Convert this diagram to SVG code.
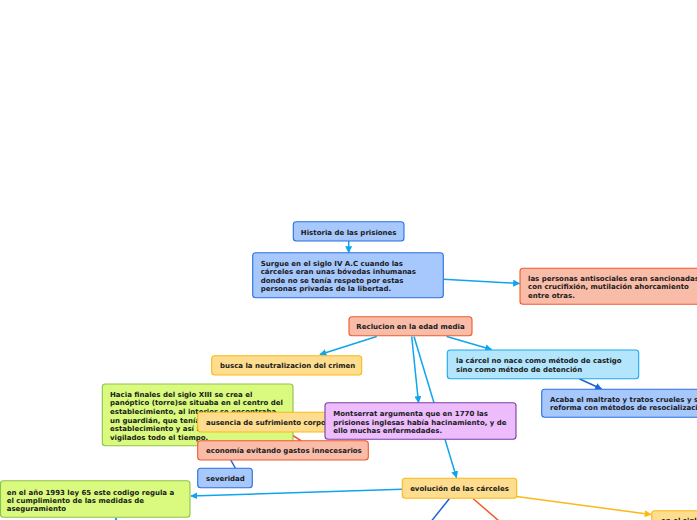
<svg xmlns="http://www.w3.org/2000/svg" width="697" height="520" viewBox="0 0 697 520">
<style>
  .t{font-family:"DejaVu Sans",Verdana,sans-serif;font-weight:bold;font-size:7px;fill:#1a1a1a}
  .c{text-anchor:middle}
  .n{stroke-width:1.1}
  .blue{fill:#a6c8fc;stroke:#2b6fe0}
  .sal{fill:#f8bca8;stroke:#f05a28}
  .yel{fill:#fedd8e;stroke:#fbb917}
  .cy{fill:#b3e5fc;stroke:#1aa9f2}
  .grn{fill:#d9fa7e;stroke:#8fc14a}
  .pur{fill:#ecbcfc;stroke:#7b3fa0}
  .l{fill:none;stroke-width:1.5}
  .lb{stroke:#0ea5ee}
  .db{stroke:#1f62d6}
  .or{stroke:#f05a28}
  .yl{stroke:#fbb917}
</style>
<defs>
  <marker id="alb" viewBox="0 0 10 10" refX="9" refY="5" markerWidth="7" markerHeight="7" markerUnits="userSpaceOnUse" orient="auto"><path d="M0,0L10,5L0,10z" fill="#0ea5ee"/></marker>
  <marker id="adb" viewBox="0 0 10 10" refX="9" refY="5" markerWidth="7" markerHeight="7" markerUnits="userSpaceOnUse" orient="auto"><path d="M0,0L10,5L0,10z" fill="#1f62d6"/></marker>
  <marker id="ayl" viewBox="0 0 10 10" refX="9" refY="5" markerWidth="7" markerHeight="7" markerUnits="userSpaceOnUse" orient="auto"><path d="M0,0L10,5L0,10z" fill="#fbb917"/></marker>
</defs>
<rect width="697" height="520" fill="#ffffff"/>
<g id="connectors">
  <line class="l lb" x1="348.7" y1="241" x2="348.7" y2="252.5" marker-end="url(#alb)"/>
  <line class="l lb" x1="443.5" y1="279.3" x2="519.5" y2="283.5" marker-end="url(#alb)"/>
  <line class="l lb" x1="376.7" y1="336.5" x2="320" y2="354.5" marker-end="url(#alb)"/>
  <line class="l lb" x1="446.7" y1="336.5" x2="491.5" y2="349.5" marker-end="url(#alb)"/>
  <line class="l lb" x1="411.7" y1="336.5" x2="418.5" y2="402.5" marker-end="url(#alb)"/>
  <line class="l lb" x1="414" y1="336.5" x2="456.5" y2="477.5" marker-end="url(#alb)"/>
  <line class="l db" x1="579.3" y1="378.8" x2="601.5" y2="389" marker-end="url(#adb)"/>
  <line class="l or" x1="284" y1="430" x2="301.5" y2="441"/>
  <line class="l db" x1="228" y1="455" x2="235.5" y2="468.5"/>
  <line class="l lb" x1="402" y1="489.3" x2="191" y2="496" marker-end="url(#alb)"/>
  <line class="l yl" x1="516.5" y1="496.5" x2="651" y2="514.5" marker-end="url(#ayl)"/>
  <line class="l db" x1="449.5" y1="498.5" x2="431.5" y2="521"/>
  <line class="l or" x1="473" y1="498.5" x2="499" y2="521"/>
  <line class="l lb" x1="116" y1="530" x2="116" y2="518" marker-end="url(#alb)"/>
</g>
<g id="n-historia">
  <rect class="n blue" x="293.3" y="221.7" width="110.7" height="19.3" rx="3"/>
  <text class="t c" x="348.7" y="234.8">Historia de las prisiones</text>
</g>
<g id="n-surgue">
  <rect class="n blue" x="252.7" y="252.7" width="190.6" height="45" rx="3"/>
  <text class="t" x="260.7" y="266">Surgue en el siglo IV A.C cuando las</text>
  <text class="t" x="260.7" y="274.4">cárceles eran unas bóvedas inhumanas</text>
  <text class="t" x="260.7" y="282.8">donde no se tenía respeto por estas</text>
  <text class="t" x="260.7" y="291.2">personas privadas de la libertad.</text>
</g>
<g id="n-personas">
  <rect class="n sal" x="520" y="268.3" width="200" height="36" rx="3"/>
  <text class="t" x="528" y="281">las personas antisociales eran sancionadas</text>
  <text class="t" x="528" y="289.4">con crucifixión, mutilación ahorcamiento</text>
  <text class="t" x="528" y="297.8">entre otras.</text>
</g>
<g id="n-reclucion">
  <rect class="n sal" x="349" y="316.7" width="123" height="19" rx="3"/>
  <text class="t c" x="410.5" y="329.2">Reclucion en la edad media</text>
</g>
<g id="n-busca">
  <rect class="n yel" x="211.7" y="355.7" width="150" height="19.3" rx="3"/>
  <text class="t" x="220" y="368.2">busca la neutralizacion del crimen</text>
</g>
<g id="n-carcel">
  <rect class="n cy" x="447.3" y="350" width="191.4" height="28.7" rx="3"/>
  <text class="t" x="456" y="363.2">la cárcel no nace como método de castigo</text>
  <text class="t" x="456" y="371.6">sino como método de detención</text>
</g>
<g id="n-acaba">
  <rect class="n blue" x="541.7" y="389.3" width="180" height="28" rx="3"/>
  <text class="t" x="550" y="401.8">Acaba el maltrato y tratos crueles y se</text>
  <text class="t" x="550" y="410.4">reforma con métodos de resocialización</text>
</g>
<g id="n-hacia">
  <rect class="n grn" x="102.3" y="384" width="190.7" height="61.7" rx="3"/>
  <text class="t" x="110" y="396.8">Hacia finales del siglo XIII se crea el</text>
  <text class="t" x="110" y="405.2">panóptico (torre)se situaba en el centro del</text>
  <text class="t" x="110" y="413.8">establecimiento, al interior se encontraba</text>
  <text class="t" x="110" y="422.5">un guardián, que tenía vista de todo el</text>
  <text class="t" x="110" y="431.2">establecimiento y así los reclusos eran</text>
  <text class="t" x="110" y="439.5">vigilados todo el tiempo.</text>
</g>
<g id="n-ausencia">
  <rect class="n yel" x="197.7" y="412.3" width="160" height="19.7" rx="3"/>
  <text class="t" x="206" y="424.8">ausencia de sufrimiento corporal</text>
</g>
<g id="n-montserrat">
  <rect class="n pur" x="325" y="402.7" width="191" height="36.6" rx="3"/>
  <text class="t" x="333.3" y="416.2">Montserrat argumenta que en 1770 las</text>
  <text class="t" x="333.3" y="424.5">prisiones inglesas había hacinamiento, y de</text>
  <text class="t" x="333.3" y="433.2">ello muchas enfermedades.</text>
</g>
<g id="n-economia">
  <rect class="n sal" x="197.7" y="440.7" width="170.6" height="19.3" rx="3"/>
  <text class="t" x="206" y="452.5">economía evitando gastos innecesarios</text>
</g>
<g id="n-severidad">
  <rect class="n blue" x="197.7" y="468.3" width="54.6" height="19.4" rx="3"/>
  <text class="t" x="206" y="480.8">severidad</text>
</g>
<g id="n-evolucion">
  <rect class="n yel" x="402.3" y="478.3" width="114.4" height="20" rx="3"/>
  <text class="t c" x="459.5" y="490.8">evolución de las cárceles</text>
</g>
<g id="n-ley65">
  <rect class="n grn" x="0.5" y="480.7" width="189.5" height="36.6" rx="3"/>
  <text class="t" x="6.7" y="494.8">en el año 1993 ley 65 este codigo regula a</text>
  <text class="t" x="6.7" y="502.5">el cumplimiento de las medidas de</text>
  <text class="t" x="6.7" y="510.8">aseguramiento</text>
</g>
<g id="n-siglo">
  <rect class="n yel" x="651.7" y="510.7" width="100" height="30" rx="3"/>
  <text class="t" x="661" y="523.3">en el siglo</text>
</g>
</svg>
